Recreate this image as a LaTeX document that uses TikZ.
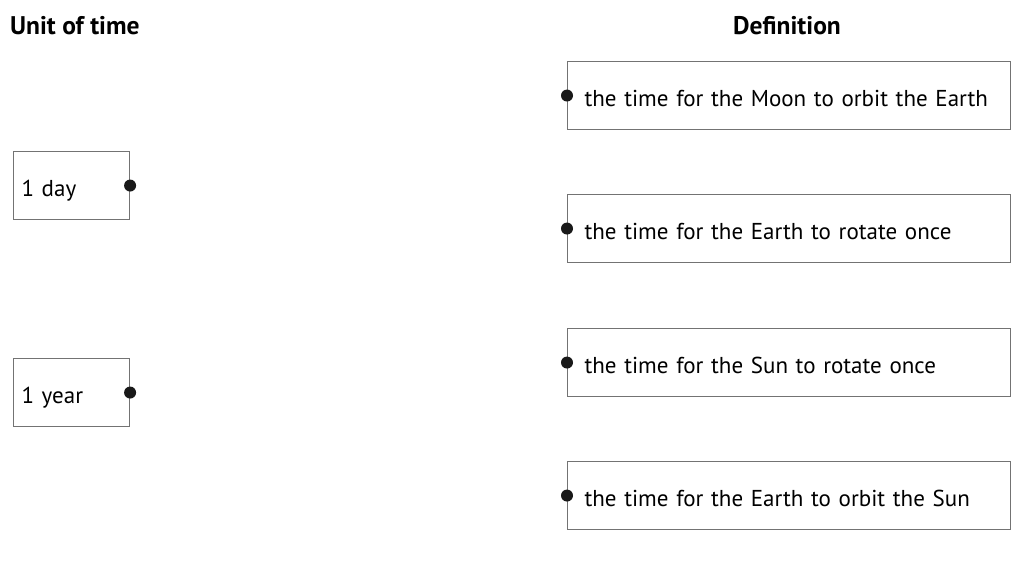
\documentclass[tikz,border=0pt]{standalone}
\usepackage{fontspec}
\setmainfont{PT Sans}

\begin{document}
\begin{tikzpicture}[
    x=1pt, y=-1pt,
    unitbox/.style={draw=black!55, line width=1.1pt, anchor=north west,
        minimum height=68pt, inner xsep=8pt, text width=100pt, align=left,
        text height=24pt, text depth=2pt,
        font=\fontsize{23}{27}\selectfont},
    defbox/.style={unitbox, inner xsep=17pt, text width=409pt},
    header/.style={font=\fontsize{25.5}{29}\selectfont\bfseries, inner sep=0pt},
    dot/.style={fill=black!90}
]
    \useasboundingbox (0,0) rectangle (1024,561);

    % Headings
    \node[header, anchor=west] (unit) at (10,26) {Unit of time};
    \node[header] (def) at (787,26) {Definition};

    % Units of time
    \node[unitbox] (day) at (13,151) {1 day};
    \node[unitbox] (year) at (13,358) {1 year};

    % Definitions
    \node[defbox] (moon) at (567,61) {the time for the Moon to orbit the Earth};
    \node[defbox] (earthrot) at (567,194) {the time for the Earth to rotate once};
    \node[defbox] (sunrot) at (567,328) {the time for the Sun to rotate once};
    \node[defbox] (earthorb) at (567,461) {the time for the Earth to orbit the Sun};

    % Dots
    \foreach \n in {day, year}
        \fill[dot] (\n.east) circle (6);
    \foreach \n in {moon, earthrot, sunrot, earthorb}
        \fill[dot] (\n.west) circle (6);
\end{tikzpicture}
\end{document}
